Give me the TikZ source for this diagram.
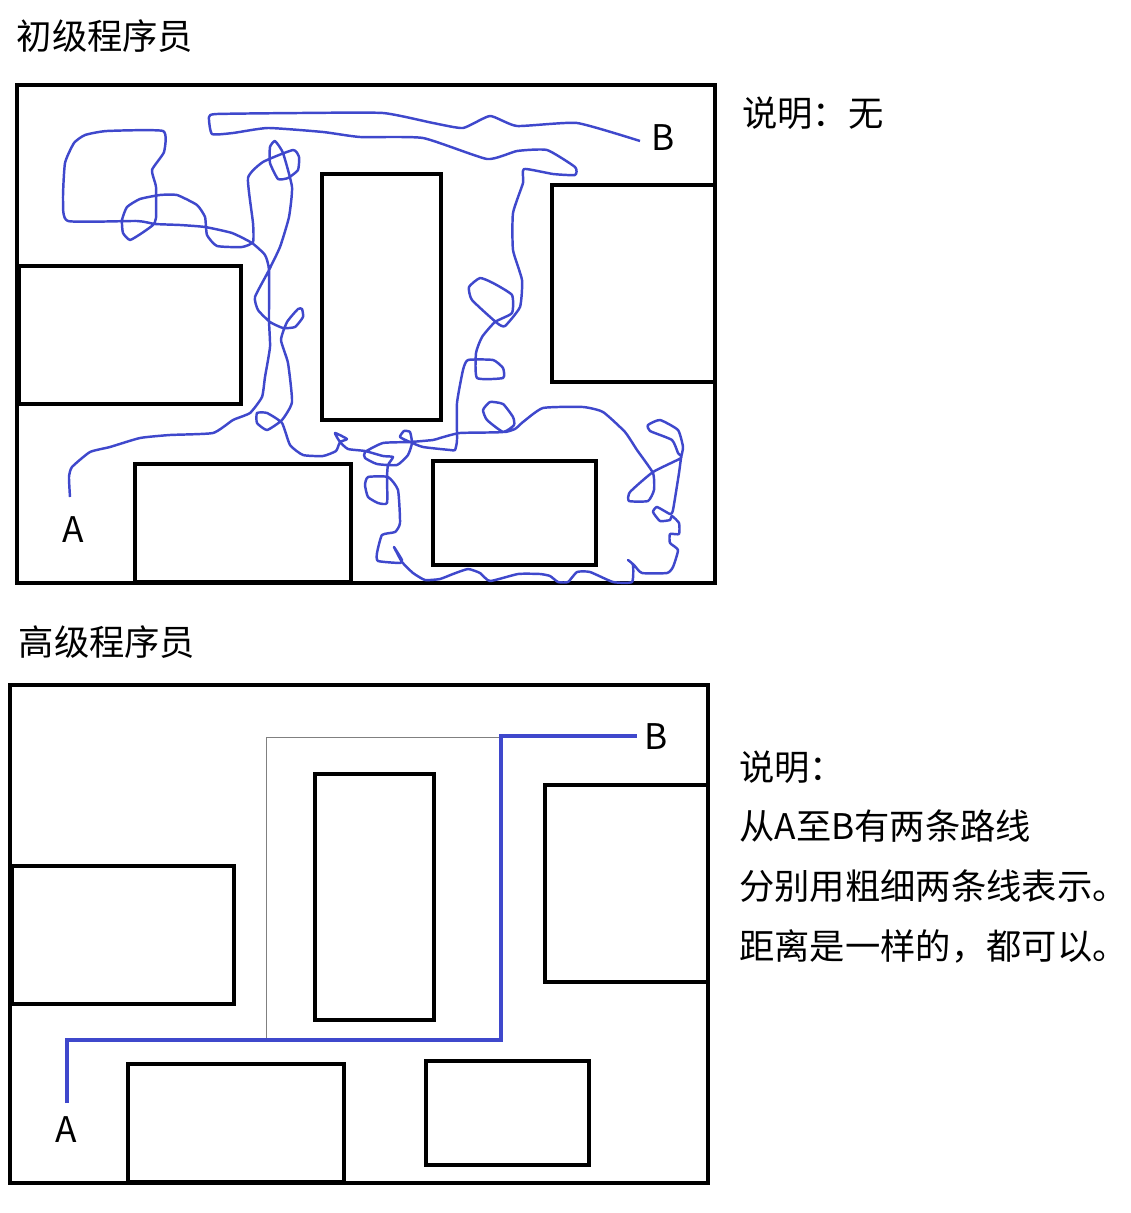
\documentclass[tikz,border=0pt]{standalone}
\usepackage{fontspec}
\setmainfont{Noto Sans CJK SC}
\usepackage{tikz}

\tikzset{
	wall/.style={line width=2.8pt},
	label/.style={font=\fontsize{20.1}{24}\selectfont},
	note/.style={label,anchor=west,inner sep=0pt},
}
\definecolor{pathblue}{RGB}{63,72,204}

\newcommand{\plan}{
	\draw[wall] (17,85) rectangle (715,583);
	\draw[wall] (19,266) rectangle (241,404);
	\draw[wall] (322,174) rectangle (441,420);
	\draw[wall] (552,185) rectangle (715,382);
	\draw[wall] (135,464) rectangle (351,582);
	\draw[wall] (433,461) rectangle (596,565);
}

\begin{document}
\begin{tikzpicture}[x=.02cm,y=-.02cm]
	\useasboundingbox (0,0) rectangle (1131,1213);

	\plan
	\begin{scope}[shift={(-7,600)}]
		\plan
	\end{scope}

	\draw[pathblue,line width=1.4pt,line join=round] plot[smooth,tension=.3] coordinates {
		(70,497) (69,477) (72,467) (90,452) (110,447) (140,438) (170,435) (213,433)
		(233,420) (250,413) (262,397) (265,377) (270,347) (269,320) (269,270) (265,255)
		(252,243) (232,233) (205,227) (180,225) (155,224) (137,221) (68,221) (63,200)
		(65,163) (74,143) (85,135) (107,131) (163,131) (164,152) (152,170) (156,187)
		(156,218) (153,225) (142,233) (130,240) (123,233) (122,220) (127,207) (140,199)
		(160,195) (177,195) (197,205) (205,217) (207,235) (217,246) (242,247) (253,242)
		(253,223) (248,178) (263,162) (293,150) (299,157) (298,170) (288,178) (278,179)
		(270,163) (270,147) (275,141) (283,153) (292,187) (289,217) (280,247) (268,272)
		(255,297) (258,310) (270,322) (283,328) (295,327) (303,317) (302,309) (298,309)
		(287,322) (281,340) (288,363) (292,402) (282,420) (267,430) (257,423) (257,413)
		(267,413) (282,423) (290,445) (303,455) (323,456) (336,451) (340,442) (347,439)
		(335,433) (340,442) (348,449) (365,451) (383,456) (393,457) (388,465) (387,477)
		(387,503) (378,503) (368,497) (365,485) (368,477) (388,477) (398,490) (400,523)
		(395,532) (382,535) (377,553) (378,561) (400,563) (402,560) (394,547) (402,562)
		(413,573) (425,580) (440,579) (453,574) (468,569) (480,573) (490,581) (518,574)
		(540,574) (550,576) (558,582) (568,582) (577,572) (590,572) (613,582) (632,582)
		(633,565) (628,560) (634,565) (642,573) (667,573) (673,567) (678,550) (670,543)
		(670,534) (679,534) (679,523) (672,516) (670,520) (660,521) (653,512) (657,507)
		(670,514) (673,510) (679,473) (681,458) (683,447) (678,430) (660,420) (648,425)
		(650,431) (672,440) (678,453) (681,458) (653,472) (630,492) (629,501) (648,501)
		(654,490) (653,473) (637,450) (625,432) (603,412) (583,407) (543,408) (523,422)
		(515,429) (503,432) (487,420) (483,410) (490,402) (503,404) (513,417) (514,425)
		(503,432) (460,433) (440,438) (433,440) (410,442) (383,443) (365,452) (365,458)
		(377,464) (397,465) (408,455) (412,443) (410,432) (404,431) (400,437) (410,442)
		(423,447) (450,450) (455,450) (457,440) (457,403) (463,370) (468,360) (493,360)
		(503,368) (503,378) (477,378) (476,353) (482,337) (495,322) (512,313) (512,295)
		(493,283) (480,278) (469,287) (472,300) (497,323) (505,326) (520,307) (522,280)
		(513,250) (513,213) (523,183) (524,169) (553,174) (575,175) (575,167) (547,150)
		(517,151) (487,159) (423,138) (360,137) (323,132) (268,128) (233,133) (212,134)
		(209,117) (217,114) (300,113) (383,113) (433,123) (463,128) (490,116) (517,126)
		(577,123) (640,141)
	};

	\coordinate (start) at (67,1103);
	\coordinate (corner) at (67,1040);
	\coordinate (fork) at (266,1040);
	\coordinate (turn) at (501,1040);
	\coordinate (top) at (501,737);
	\coordinate (end) at (637,736);
	\draw[gray,line width=.4pt] (fork) -- (266,737) -- (top);
	\draw[pathblue,wall] (start) -- (corner) -- (turn) -- (501,736) -- (end);

	\node[label] (titleA) at (105,36) {初级程序员};
	\node[label] (titleB) at (107,642) {高级程序员};
	\node[label] (a1) at (73,530) {A};
	\node[label] (b1) at (663,138) {B};
	\node[label] (a2) at (66,1130) {A};
	\node[label] (b2) at (656,737) {B};

	\node[note] (noteA) at (742,113) {说明：无};
	\node[note] (noteB) at (739,767) {说明：};
	\node[note] (line1) at (739,826) {从A至B有两条路线};
	\node[note] (line2) at (739,886) {分别用粗细两条线表示。};
	\node[note] (line3) at (739,946) {距离是一样的，都可以。};
\end{tikzpicture}
\end{document}
